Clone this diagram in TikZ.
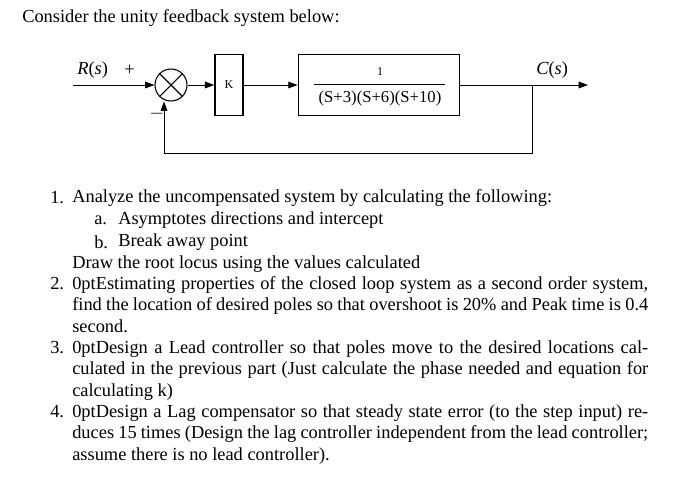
\documentclass[tikz,border=0pt]{standalone}
\usepackage{fontspec}
\setmainfont{Liberation Serif}
\usetikzlibrary{arrows.meta}
\begin{document}
\begin{tikzpicture}[x=0.75pt,y=-0.75pt,
  blk/.style={draw,line width=1.1pt,inner sep=0pt},
  sig/.style={line width=0.7pt,-{Triangle[length=7pt,width=5pt]}},
  ln/.style={line width=0.7pt},
  txt/.style={inner sep=0pt,anchor=west,font=\fontsize{13.8}{16.2}\selectfont},
  num/.style={inner sep=0pt,anchor=north west,font=\fontsize{13.8}{16.2}\selectfont},
  par/.style={inner sep=0pt,anchor=north west,text width=432pt,align=justify,font=\fontsize{13.8}{16.2}\selectfont\hyphenpenalty=10000\exhyphenpenalty=10000}]
\useasboundingbox (0,0) rectangle (693,479);
\node[txt] (title) at (22,18) {Consider the unity feedback system below:};
% diagram
\coordinate (in) at (73,85);
\node[draw,circle,minimum size=24pt,inner sep=0pt,line width=0.8pt] (sum) at (171,85) {};
\draw[line width=0.8pt] (sum.north west)--(sum.south east) (sum.north east)--(sum.south west);
\node[blk,minimum height=46pt,minimum width=21pt] (K) at (229,85) {\fontsize{9}{10}\selectfont K};
\node[blk,minimum width=121pt,minimum height=46pt] (G) at (379,85) {};
\node[inner sep=0pt,font=\fontsize{9}{10}\selectfont] (num1) at (380,72) {1};
\node[inner sep=0pt,font=\fontsize{12.5}{13}\selectfont] (den) at (380,98) {(S+3)(S+6)(S+10)};
\draw[line width=0.6pt] (314,84)--(445,84);
\coordinate (br) at (532,85);
\coordinate (out) at (588,85);
\coordinate (fb) at (532,153);
\coordinate (fb2) at (164,153);
\draw[sig] (in)--(sum);
\draw[sig] (sum)--(K);
\draw[sig] (K)--(G);
\draw[ln] (G)--(br);
\draw[sig] (br)--(out);
\draw[ln] (br)--(fb)--(fb2);
\draw[sig] (fb2)--(164,85|-sum.south);
\node[txt] (R) at (77,70) {\itshape R\upshape(\itshape s\upshape)};
\node[txt] (C) at (536,70) {\itshape C\upshape(\itshape s\upshape)};
\node[txt] (plus) at (124,70) {+};
\node[txt] (minus) at (149,114) {$-$};
% text
\node[txt] (n1) at (50,198) {1.};
\node[txt] (t1) at (72,198) {Analyze the uncompensated system by calculating the following:};
\node[txt] (a) at (94,220) {a.};
\node[txt] (ta) at (118,220) {Asymptotes directions and intercept};
\node[txt] (b) at (94,242) {b.};
\node[txt] (tb) at (118,242) {Break away point};
\node[txt] (dr) at (72,264) {Draw the root locus using the values calculated};
\node[num] (n2) at (50,274) {\strut 2.};
\node[par] (t2) at (72,274) {\strut Estimating properties of the closed loop system as a second order system, find the location of desired poles so that overshoot is 20\% and Peak time is 0.4 second.};
\node[num] (n3) at (50,338) {\strut 3.};
\node[par] (t3) at (72,338) {\strut Design a Lead controller so that poles move to the desired locations calculated in the previous part (Just calculate the phase needed and equation for\linebreak calculating k)};
\node[num] (n4) at (50,402) {\strut 4.};
\node[par] (t4) at (72,402) {\strut Design a Lag compensator so that steady state error (to the step input) reduces 15 times (Design the lag controller independent from the lead controller;\linebreak assume there is no lead controller).};
\end{tikzpicture}
\end{document}
